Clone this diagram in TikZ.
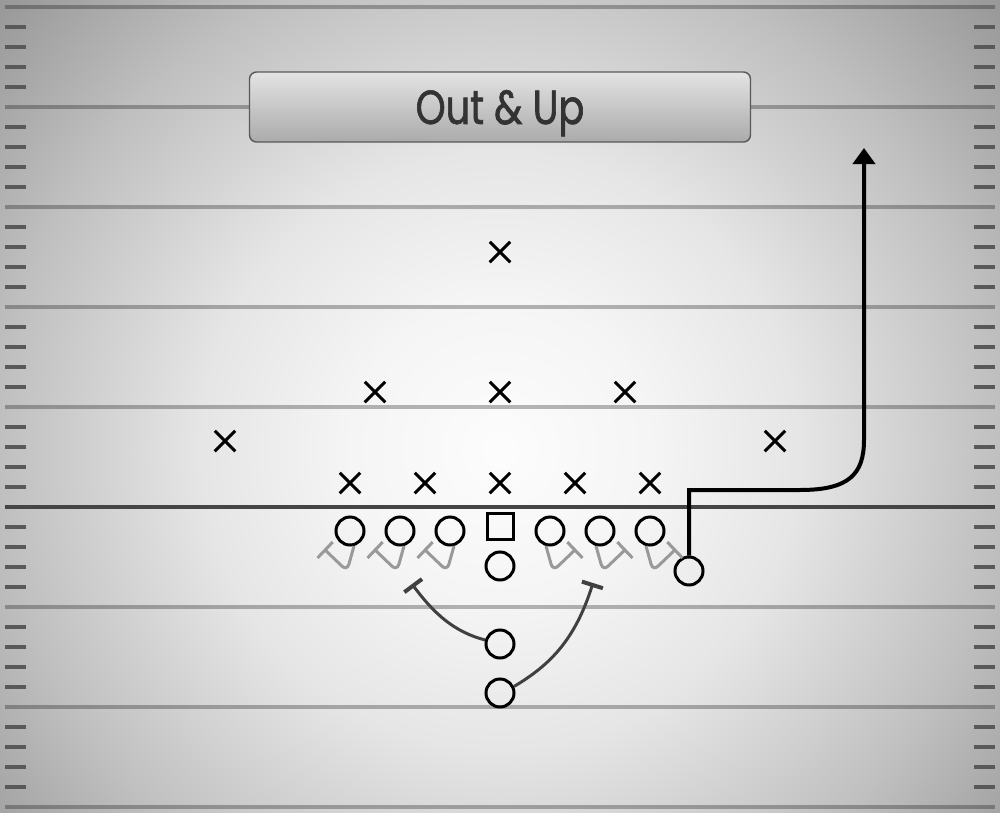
\documentclass[tikz,border=0pt]{standalone}
\usepackage{fontspec}
\usetikzlibrary{arrows.meta,shapes.misc}
\newfontfamily\titlefont[FakeStretch=0.8, FakeBold=1.3]{Poppins}

% field background: round light spot in the middle
\pgfdeclareradialshading{fieldshade}{\pgfpoint{0bp}{0bp}}{%
  rgb(0bp)=(0.99,0.99,0.99); rgb(5.4bp)=(0.96,0.96,0.96); rgb(10.7bp)=(0.90,0.90,0.90);
  rgb(14.3bp)=(0.825,0.825,0.825); rgb(17.9bp)=(0.75,0.75,0.75);
  rgb(23.8bp)=(0.60,0.60,0.60); rgb(25bp)=(0.58,0.58,0.58); rgb(50bp)=(0.58,0.58,0.58)}

\begin{document}
\begin{tikzpicture}
        [x=0.1mm, y=-0.1mm,
        yardline/.style={black, opacity=0.28, line width=0.04cm},
        hashmark/.style={black!65, line width=0.04cm},
        scrimmage/.style={black!73, line width=0.04cm},
        titlebox/.style={rectangle, draw=black!65, rounded corners=2pt, minimum width=5.01cm,
            minimum height=0.70cm, top color=black!11, bottom color=black!33, text=black!80,
            text depth=0pt, font=\titlefont\fontsize{13.6pt}{14pt}\selectfont},
        defender/.style={cross out, draw, line width=0.03cm, minimum size=0.175cm, inner sep=0pt},
        player/.style={circle, draw, line width=0.03cm, minimum size=0.28cm, inner sep=0pt},
        snapper/.style={rectangle, draw, line width=0.03cm, minimum size=0.26cm, inner sep=0pt},
        block/.style={black!40, line width=0.03cm, rounded corners=0.7mm, -{Bar[width=0.22cm]}},
        protect/.style={black!75, line width=0.03cm, -{Bar[width=0.22cm, line width=0.04cm]}},
        route/.style={black, line width=0.04cm, -{Triangle[width=0.22cm, length=0.16cm]}}]

        \useasboundingbox (0,0) rectangle (1000,813);

        % field
        \begin{scope}
            \clip (0,0) rectangle (1000,813);
            \shade[shading=fieldshade] (-200,-250) rectangle (1200,1150);
        \end{scope}
        \foreach \y in {7,107,...,407,607,707,807}
            \draw[yardline] (5,\y) -- (995,\y);
        \foreach \b in {0,100,...,700}
            \foreach \d in {20,40,60,80} {
                \draw[hashmark] (5,7+\b+\d) -- (26,7+\b+\d);
                \draw[hashmark] (974,7+\b+\d) -- (995,7+\b+\d);
            }
        \draw[scrimmage] (5,507) -- (995,507);

        % play name
        \node[titlebox] (title) at (500,107) {Out \& Up};

        % defense
        \node[defender] (fs) at (500,252) {};
        \node[defender] (lb1) at (375,392) {};
        \node[defender] (lb2) at (500,392) {};
        \node[defender] (lb3) at (625,392) {};
        \node[defender] (cb1) at (225,441) {};
        \node[defender] (cb2) at (775,441) {};
        \node[defender] (dl1) at (350,483) {};
        \node[defender] (dl2) at (425,483) {};
        \node[defender] (dl3) at (500,483) {};
        \node[defender] (dl4) at (575,483) {};
        \node[defender] (dl5) at (650,483) {};

        % offense
        \node[player] (lt) at (350,531) {};
        \node[player] (lg) at (400,531) {};
        \node[player] (lc) at (450,531) {};
        \node[snapper] (c) at (500,526) {};
        \node[player] (rc) at (550,531) {};
        \node[player] (rg) at (600,531) {};
        \node[player] (rt) at (650,531) {};
        \node[player] (qb) at (500,566) {};
        \node[player] (rb) at (500,644) {};
        \node[player] (fb) at (500,693) {};
        \node[player] (wr) at (689,571) {};

        % line blocks
        \foreach \p in {lt,lg,lc}
            \draw[block] (\p.-75) -- ++(-7,25) -- ++(-23,-22);
        \foreach \p in {rc,rg,rt}
            \draw[block] (\p.-105) -- ++(7,25) -- ++(23,-22);

        % backs pass protection
        \coordinate (pl) at (412,584);
        \coordinate (pr) at (593,583);
        \draw[protect] (rb.165) .. controls (455,632) and (435,615) .. (pl);
        \draw[protect] (fb.25) .. controls (550,665) and (575,640) .. (pr);

        % out and up route
        \coordinate (deep) at (864,148);
        \draw[route] (wr.north) |- (800,490) .. controls (848,490) and (864,475) .. (864,440) -- (deep);

    \end{tikzpicture}
\end{document}
